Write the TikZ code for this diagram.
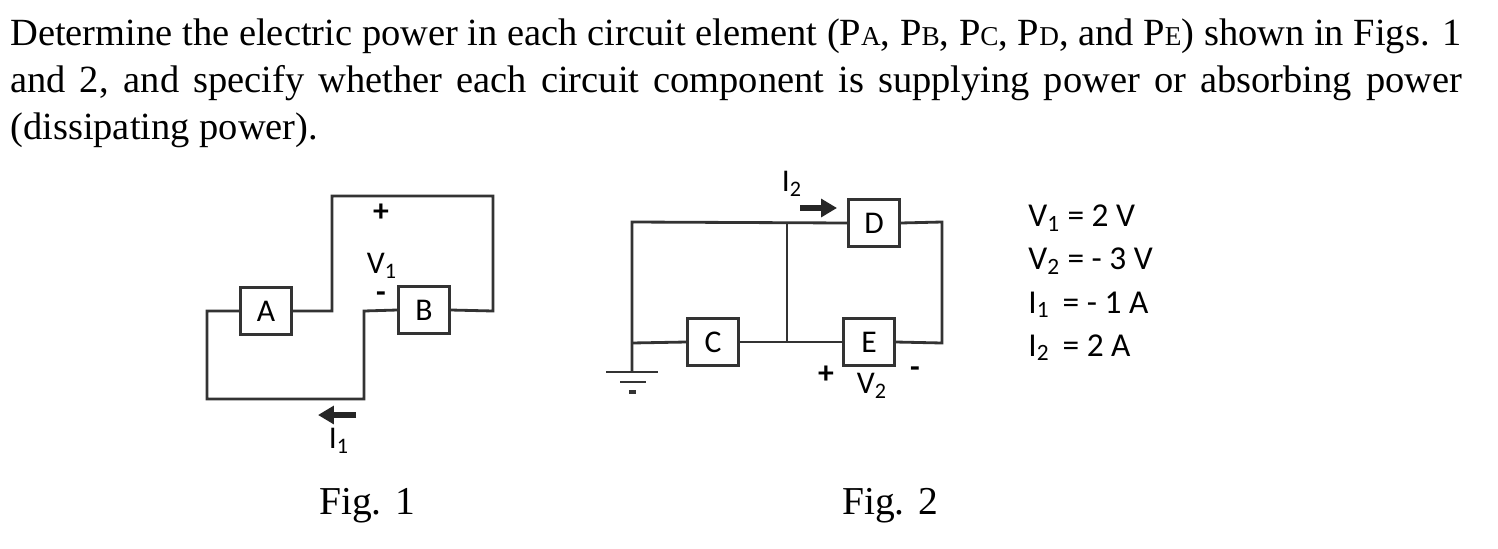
\documentclass[tikz,border=0pt]{standalone}
\usepackage{fontspec}
\setmainfont{Liberation Serif}
\newfontfamily\carl{Carlito}
\usetikzlibrary{arrows.meta}
\begin{document}
\begin{tikzpicture}[x=0.02cm,y=-0.02cm,
  wire/.style={line width=1.6pt,draw=black!80},
  box/.style={draw=black!80,line width=1.2pt,minimum width=1.02cm,minimum height=0.94cm,inner sep=0pt,font=\carl\fontsize{18}{18}\selectfont},
  lab/.style={font=\carl\fontsize{18}{18}\selectfont,inner sep=0pt},
  cur/.style={-{Triangle[length=9pt,width=10pt]},line width=3pt,draw=black!85},
  figl/.style={font=\fontsize{22.5}{24}\selectfont,inner sep=0pt}]
\useasboundingbox (0,0) rectangle (1498,548);
\node[anchor=north west,inner sep=0pt,align=left,font=\fontsize{21.9}{22}\selectfont] (q) at (10,18) {%
\makebox[29.04cm][s]{Determine the electric power in each circuit element (P{\fontsize{15.5}{16}\selectfont A}, P{\fontsize{15.5}{16}\selectfont B}, P{\fontsize{15.5}{16}\selectfont C}, P{\fontsize{15.5}{16}\selectfont D}, and P{\fontsize{15.5}{16}\selectfont E}) shown in Figs. 1}\\[0.17cm]
\makebox[29.04cm][s]{and 2, and specify whether each circuit component is supplying power or absorbing power}\\[0.17cm]
(dissipating power).};
% Fig 1
\node[box] (A) at (266,311) {A};
\node[box] (B) at (424,310) {B};
\coordinate (a1) at (207,311); \coordinate (a2) at (207,399);
\coordinate (a3) at (364,399); \coordinate (a4) at (364,311);
\coordinate (b1) at (332,311); \coordinate (b2) at (332,196);
\coordinate (b3) at (493,196); \coordinate (b4) at (493,311);
\draw[wire] (A.west) -- (a1) -- (a2) -- (a3) -- (a4) -- (B.west);
\draw[wire] (A.east) -- (b1) -- (b2) -- (b3) -- (b4) -- (B.east);
\node[lab] (p1) at (381,213) {\textbf{+}};
\node[lab] (v1) at (382,266) {V\textsubscript{1}};
\node[lab] (m1) at (381,297) {\textbf{-}};
\coordinate (i1s) at (356,415); \coordinate (i1e) at (318,415);
\draw[cur] (i1s) -- (i1e);
\node[lab] (i1) at (339,441) {I\textsubscript{1}};
\node[figl] (f1) at (367,506) {Fig. 1};
% Fig 2
\node[box] (D) at (874,223) {D};
\node[box] (C) at (713,342) {C};
\node[box] (E) at (869,342) {E};
\coordinate (t1) at (632,222); \coordinate (t2) at (787,222);
\coordinate (m2) at (787,343); \coordinate (r1) at (942,222); \coordinate (r2) at (942,343);
\coordinate (g0) at (632,372); \coordinate (gl) at (632,343);
\draw[wire] (g0) -- (t1) -- (D.west);
\draw[wire] (D.east) -- (r1) -- (r2) -- (E.east);
\draw[wire] (t2) -- (m2);
\draw[wire] (gl) -- (C.west);
\draw[wire] (C.east) -- (E.west);
\coordinate (ga1) at (606,372); \coordinate (ga2) at (658,372);
\coordinate (gb1) at (620,382); \coordinate (gb2) at (646,382);
\coordinate (gc1) at (629,392); \coordinate (gc2) at (636,392);
\draw[wire] (ga1) -- (ga2); \draw[wire] (gb1) -- (gb2); \draw[wire,line width=2.4pt] (gc1) -- (gc2);
\coordinate (i2s) at (800,208); \coordinate (i2e) at (837,208);
\draw[cur] (i2s) -- (i2e);
\node[lab] (i2) at (792,184) {I\textsubscript{2}};
\node[lab] (p2) at (826,375) {\textbf{+}};
\node[lab] (v2) at (872,386) {V\textsubscript{2}};
\node[lab] (m2l) at (915,372) {\textbf{-}};
\node[figl] (f2) at (890,506) {Fig. 2};
\node[lab,anchor=west,align=left,font=\carl\fontsize{19}{24.5}\selectfont] (vals) at (1028,283) {%
V\textsubscript{1} = 2 V\\ V\textsubscript{2} = - 3 V\\ I\textsubscript{1} \,= - 1 A\\ I\textsubscript{2} \,= 2 A};
\end{tikzpicture}
\end{document}
